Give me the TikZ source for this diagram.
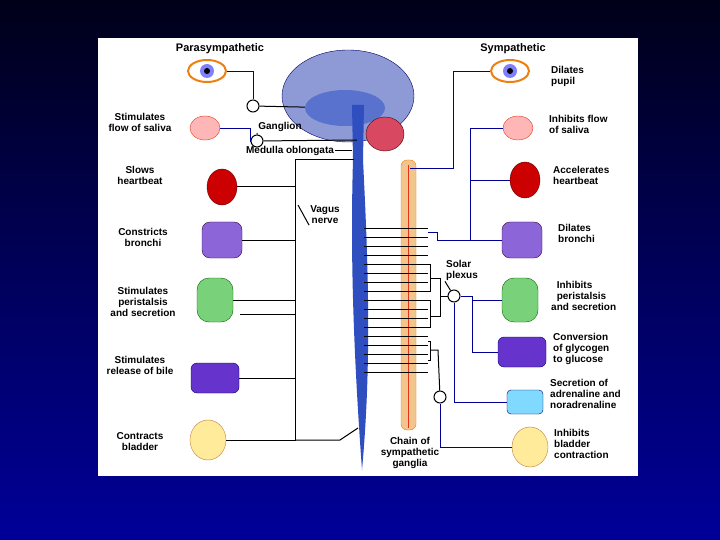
\documentclass[tikz,border=0pt]{standalone}
\usepackage{fontspec}
\setmainfont{Liberation Sans}
\usetikzlibrary{shapes.geometric}
\definecolor{brainc}{HTML}{8E9AD6}
\definecolor{cordc}{HTML}{2F4FC0}
\definecolor{chainc}{HTML}{F2C58C}
\definecolor{cerc}{HTML}{D84860}
\begin{document}
\begin{tikzpicture}[x=1pt,y=-1pt,
  lab/.style={font=\fontsize{10}{11}\selectfont\bfseries,align=center,inner sep=1pt},
  ttl/.style={font=\fontsize{11}{12}\selectfont\bfseries,inner sep=1pt},
  pn/.style={black,line width=1pt},
  sn/.style={blue!60!black,line width=0.8pt},
  gang/.style={circle,draw,line width=1pt,minimum size=12pt,inner sep=0pt,fill=white},
  eye/.style={ellipse,draw=orange!70!brown,line width=2pt,fill=white,minimum width=38pt,minimum height=22pt,inner sep=0pt},
  gland/.style={ellipse,fill=pink!70!red!60,draw=red!50!brown,minimum width=30pt,minimum height=24pt},
  heart/.style={ellipse,fill=red!80!black,draw=red!40!black,minimum width=30pt,minimum height=36pt},
  lung/.style={fill=violet!50!blue!60,draw=violet!50!black,minimum width=40pt,minimum height=36pt,rounded corners=8pt},
  stom/.style={fill=green!50!gray!70,draw=green!40!black,minimum width=36pt,minimum height=44pt,rounded corners=12pt},
  liver/.style={fill=blue!50!violet!80,draw=blue!50!black,minimum width=48pt,minimum height=30pt,rounded corners=6pt},
  panc/.style={fill=blue!30!cyan!50,draw=blue!40!black,minimum width=36pt,minimum height=24pt,rounded corners=4pt},
  blad/.style={ellipse,fill=orange!40!yellow!40,draw=brown,minimum width=36pt,minimum height=40pt}
]
\useasboundingbox (0,0) rectangle (720,540);
\shade[top color=black!90!blue,bottom color=blue!60!black] (0,0) rectangle (720,540);
\fill[white] (98,38) rectangle (638,476);

% brain
\node[ellipse,fill=brainc,draw=blue!40!black,minimum width=132pt,minimum height=92pt] (brain) at (348,96) {};
\node[ellipse,fill=cordc!80,minimum width=80pt,minimum height=36pt] (mid) at (345,108) {};
\node[ellipse,fill=cerc,draw=red!30!black,minimum width=38pt,minimum height=34pt] (cereb) at (385,134) {};
% spinal cord
\fill[cordc] (352,105) -- (364,105) -- (363,160) .. controls (368,260) and (372,360) .. (362,470) .. controls (354,360) and (350,260) .. (353,160) -- cycle;
\coordinate (cordtop) at (357,140);
% sympathetic chain
\fill[chainc,draw=orange!70!brown,rounded corners=6pt] (401,160) rectangle (416,430);
\draw[red!60!brown] (408,165) -- (408,428);

% titles
\node[ttl] (para) at (220,49) {Parasympathetic};
\node[ttl] (symp) at (513,49) {Sympathetic};

% left organs
\node[eye] (leye) at (207,71) {}; \fill[blue!50] (leye) circle (7pt); \fill[black] (leye) circle (3pt);
\node[gland] (lsal) at (205,128) {};
\node[heart] (lheart) at (222,187) {};
\node[lung] (llung) at (222,240) {};
\node[stom] (lstom) at (215,300) {};
\node[liver] (lliv) at (215,378) {};
\node[blad] (lblad) at (208,440) {};
% right organs
\node[eye] (reye) at (510,71) {}; \fill[blue!50] (reye) circle (7pt); \fill[black] (reye) circle (3pt);
\node[gland] (rsal) at (518,128) {};
\node[heart] (rheart) at (525,180) {};
\node[lung] (rlung) at (522,240) {};
\node[stom] (rstom) at (520,300) {};
\node[liver] (rliv) at (522,352) {};
\node[panc] (rpanc) at (525,402) {};
\node[blad] (rblad) at (530,447) {};

% left labels
\node[lab] at (140,122) {Stimulates\\flow of saliva};
\node[lab] at (140,175) {Slows\\heartbeat};
\node[lab] at (143,237) {Constricts\\bronchi};
\node[lab] at (143,302) {Stimulates\\peristalsis\\and secretion};
\node[lab] at (140,365) {Stimulates\\release of bile};
\node[lab] at (140,442) {Contracts\\bladder};
% right labels
\node[lab,align=left,anchor=west] at (550,76) {Dilates\\pupil};
\node[lab,align=left,anchor=west] at (548,124) {Inhibits flow\\of saliva};
\node[lab,align=left,anchor=west] at (552,175) {Accelerates\\ heartbeat};
\node[lab,align=left,anchor=west] at (557,233) {Dilates\\bronchi};
\node[lab,align=left,anchor=west] at (550,296) {\ \ Inhibits\\\ \ peristalsis\\and secretion};
\node[lab,align=left,anchor=west] at (552,349) {Conversion\\of glycogen\\to glucose};
\node[lab,align=left,anchor=west] at (549,394) {Secretion of\\adrenaline and\\noradrenaline};
\node[lab,align=left,anchor=west] at (553,444) {Inhibits\\bladder\\contraction};
% center labels
\node[lab] (gl) at (280,127) {Ganglion};
\node[lab] (med) at (290,151) {Medulla oblongata};
\node[lab] (vag) at (325,215) {Vagus\\nerve};
\node[lab,align=left] (solar) at (462,270) {Solar\\plexus};
\node[lab] (chain) at (410,453) {Chain of\\sympathetic\\ganglia};

% parasympathetic
\node[gang] (g1) at (253,106) {};
\node[gang] (g2) at (257,141) {};
\draw[sn] (leye.east) -| (g1);
\draw[pn] (g1) -- (mid);
\draw[sn] (lsal.east) -- (250,128) |- (g2);
\draw[pn] (g2) -- (cordtop);
\draw[pn] (gl.south west) -- (g2);
\draw[pn] (med.east) -- (352,151);
\draw[pn] (354,160) -- (295,160) -- (295,440) -- (lblad.east);
\draw[pn] (lheart.east) -- (295,187);
\draw[pn] (llung.east) -- (295,240);
\draw[pn] (lstom.east) -- (295,300);
\draw[pn] (295,314) -- (240,314);
\draw[pn] (lliv.east) -- (295,378);
\draw[pn] (vag.south west) -- (298,205);
\draw[pn] (295,440) -- (340,440) -- (358,428);

% ladder
\foreach \y in {228,237,246,255,264,273,282,291,300,309,318,327,336,345,354,363,372} {\draw[black] (364,\y) -- (428,\y);}
\draw[pn] (428,264) -- (430,264) -- (430,291) -- (428,291);
\draw[pn] (428,300) -- (430,300) -- (430,327) -- (428,327);
\draw[pn] (430,278) -- (440,278) -- (440,316) -- (430,316);
\draw[pn] (428,341) -- (430,341) -- (430,360) -- (428,360);
\node[gang] (sp) at (454,296) {};
\node[gang] (g3) at (440,397) {};
\draw[pn] (440,296) -- (sp);
\draw[pn] (solar.south west) -- (sp);
\draw[pn] (430,350) -- (438,350) -- (g3);

% sympathetic outputs
\draw[sn] (410,168) -- (453,168) |- (reye.west);
\draw[sn] (428,232) -- (437,232) -- (437,240) -- (470,240) |- (rsal.west);
\draw[sn] (470,180) -- (rheart.west);
\draw[sn] (470,240) -- (rlung.west);
\draw[sn] (sp) -- (472,296) |- (rstom.west);
\draw[sn] (472,296) |- (rliv.west);
\draw[sn] (sp) -- (454,402) -- (rpanc.west);
\draw[sn] (g3) -- (440,447) -- (rblad.west);
\end{tikzpicture}
\end{document}
